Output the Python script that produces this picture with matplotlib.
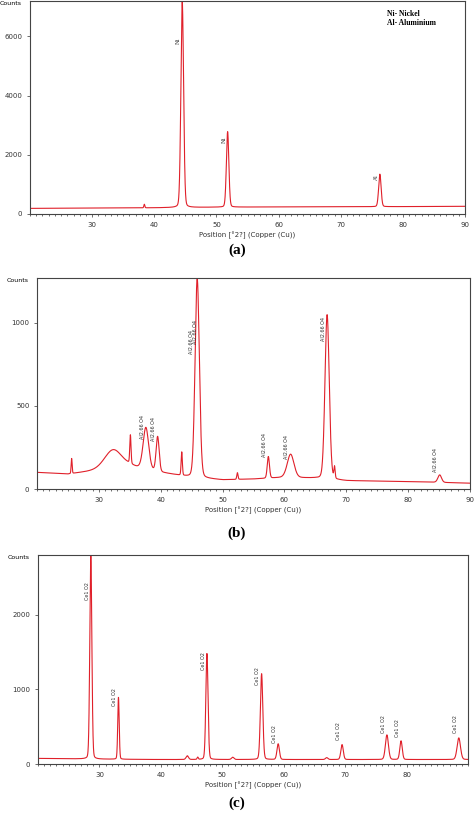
import numpy as np
import matplotlib
matplotlib.use("Agg")
import matplotlib.pyplot as plt

W, H = 474, 813
# Panel (a): Ni-Al
a_pos = [38.4, 44.5, 51.8, 76.3]
a_hgt = [120, 6950, 2550, 1100]
a_wid = [0.08, 0.22, 0.2, 0.2]
a_bg_x = [20, 40, 50, 60, 70, 80, 90]
a_bg_y = [190, 210, 230, 240, 245, 250, 260]
a_lab = [(44.5, "Ni", 5750), (51.8, "Ni", 2400), (76.3, "Al", 1100)]

# Panel (b): Al2.66 O4
b_pos = [25.6, 32.3, 35.1, 37.6, 39.5, 43.4, 45.9, 52.4, 57.4, 61.0, 66.9, 68.1, 85.1]
b_hgt = [90, 110, 170, 250, 210, 140, 1200, 40, 130, 140, 990, 70, 45]
b_wid = [0.08, 1.4, 0.1, 0.45, 0.25, 0.1, 0.35, 0.1, 0.18, 0.55, 0.35, 0.1, 0.3]
b_bg_x = [20, 25, 30, 35, 40, 45, 50, 55, 60, 65, 70, 80, 90]
b_bg_y = [100, 90, 115, 140, 100, 70, 55, 60, 70, 65, 50, 45, 35]
b_lab = [(37.6, "Al2.66 O4", 300), (39.5, "Al2.66 O4", 290), (45.6, "Al2.66 O4", 810),
         (46.2, "Al2.66 O4", 870), (57.4, "Al2.66 O4", 190), (61.0, "Al2.66 O4", 180),
         (66.9, "Al2.66 O4", 890), (85.1, "Al2.66 O4", 100)]

# Panel (c): Ce1 O2
c_pos = [28.6, 33.1, 44.3, 46.0, 47.5, 51.7, 56.4, 59.1, 67.0, 69.5, 76.8, 79.1, 88.5]
c_hgt = [2720, 830, 50, 30, 1420, 30, 1150, 210, 25, 200, 330, 250, 290]
c_wid = [0.17, 0.12, 0.2, 0.1, 0.18, 0.2, 0.2, 0.2, 0.2, 0.2, 0.25, 0.2, 0.28]
c_bg_x = [20, 30, 40, 50, 60, 70, 80, 90]
c_bg_y = [75, 65, 60, 60, 60, 60, 60, 60]
c_lab = [(28.6, "Ce1 O2", 2200), (33.1, "Ce1 O2", 780), (47.5, "Ce1 O2", 1260),
         (56.4, "Ce1 O2", 1060), (59.1, "Ce1 O2", 280), (69.5, "Ce1 O2", 320),
         (76.8, "Ce1 O2", 420), (79.1, "Ce1 O2", 360), (88.5, "Ce1 O2", 420)]

def pattern(x, pos, hgt, wid, bgx, bgy):
    y = np.interp(x, bgx, bgy)
    for p, h, w in zip(pos, hgt, wid):
        d = (x - p) / w
        y = y + h * (0.85 * np.exp(-0.5 * d ** 2) + 0.15 / (1 + d ** 2))
    return y

fig = plt.figure(figsize=(W / 100, H / 100), dpi=100)

def panel(box, pos, hgt, wid, bgx, bgy, ymax, yticks, labs, lab_fs, serif, caption, cap_y, xticks):
    l, t, r, b = box
    ax = fig.add_axes([l / W, 1 - b / H, (r - l) / W, (b - t) / H])
    x = np.linspace(20, 90, 5000)
    ax.plot(x, pattern(x, pos, hgt, wid, bgx, bgy), color="#e0202a", lw=0.8)
    ax.set_xlim(20, 90)
    ax.set_ylim(0, ymax)
    ax.set_yticks(yticks)
    ax.set_xticks(xticks)
    ax.set_xticks(np.arange(20, 91, 1), minor=True)
    ax.tick_params(labelsize=5, length=2, width=0.5, colors="#333333")
    ax.tick_params(which="minor", length=1.5, width=0.4)
    for s in ax.spines.values():
        s.set_linewidth(0.8)
        s.set_color("#444444")
    ax.set_xlabel("Position [°2?] (Copper (Cu))", fontsize=5, labelpad=3, color="#333333")
    ax.text(-0.02, 1.0, "Counts", transform=ax.transAxes, fontsize=4.5, ha="right", va="top")
    for xp, txt, yy in labs:
        ax.text(xp - 0.6, yy, txt, rotation=90, fontsize=lab_fs, ha="center", va="bottom",
                family="DejaVu Serif" if serif else "DejaVu Sans", color="#333333")
    fig.text(0.5, 1 - cap_y / H, caption, ha="center", va="center", fontsize=11,
             fontweight="bold", family="Liberation Serif")
    return ax

ax1 = panel((30, 1, 465, 214), a_pos, a_hgt, a_wid, a_bg_x, a_bg_y, 7200,
            [0, 2000, 4000, 6000], a_lab, 4, True, "(a)", 250, [30, 40, 50, 60, 70, 80, 90])
ax1.text(0.82, 0.96, "Ni- Nickel\nAl- Aluminium", transform=ax1.transAxes, fontsize=5.5,
         fontweight="bold", family="Liberation Serif", va="top", linespacing=1.3)
panel((37, 278, 470, 489), b_pos, b_hgt, b_wid, b_bg_x, b_bg_y, 1270,
      [0, 500, 1000], b_lab, 3.5, False, "(b)", 533, [30, 40, 50, 60, 70, 80, 90])
panel((38, 555, 468, 764), c_pos, c_hgt, c_wid, c_bg_x, c_bg_y, 2800,
      [0, 1000, 2000], c_lab, 3.5, False, "(c)", 803, [30, 40, 50, 60, 70, 80])

fig.savefig("out.png", dpi=100)
